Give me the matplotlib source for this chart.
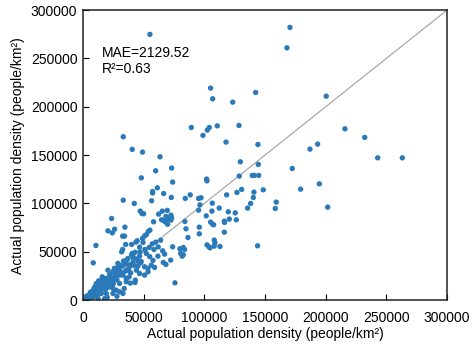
import matplotlib
matplotlib.use("Agg")
import matplotlib.pyplot as plt
import numpy as np

plt.rcParams['font.family'] = ['Liberation Sans', 'DejaVu Sans']

# actual (x) vs predicted (y) population density, people/km2
x_vals = [
    55200, 105200, 106900, 123400, 142300, 89300, 98900, 102500, 104100, 110700,
    128600, 117900, 144200, 33200, 40600, 49100, 170600, 168100, 200500, 215900,
    232200, 193400, 187100, 242900, 263200, 172500, 194800, 179400, 159300, 158500,
    201700,
    63500, 73100, 59900, 48100, 73900, 57400, 57400, 61300, 66500, 72800,
    33200, 42300, 56600, 47200, 48600, 50000, 62400, 65400, 69500, 58200,
    64800, 67000, 68400, 69500, 70900, 68200, 69800, 23600, 20600, 24200,
    26100, 34600, 32700, 34300, 55200, 53800, 52200, 50800, 49100, 44700,
    43700, 40100, 32700, 31900, 10700, 8500, 75800,
    101900, 102200, 129700, 144500, 128800, 139500, 141200, 144800, 84300, 88400,
    95300, 97300, 96400, 95300, 106600, 106300, 112300, 118400, 126900, 130800,
    140900, 148600, 140400, 138200, 135700, 125500, 119800, 120600, 126400, 116500,
    116700, 101600, 105200, 106800, 107700, 84000, 84900, 95900, 95900, 116500,
    86500, 108200, 108800, 102200, 103800, 104700, 108200, 112900, 143900, 73900,
    79900, 82700, 83800, 80500, 82700, 81800, 72500, 73100, 72500,
    35200, 49500, 46700, 51100, 54600, 57100, 40600, 41200, 46700, 52200,
    58500, 65700, 67300, 61800, 57700, 66200, 68400, 72300, 28800, 33000,
    35700, 41200, 45300, 50800, 53600, 56300, 59000, 53600, 46700, 50800,
    39300, 42900, 39000, 43100, 20600, 24700, 27400, 30200, 15900, 19200,
    23300, 26000, 30200, 33000, 35700, 35700, 30200, 11000, 13700, 16500,
    19200, 8200, 11000, 22000, 24700, 27400, 5500, 2700, 8200, 15100,
    19200, 24700, 30200, 33000, 12400, 17900,
    4000, 6000, 9000, 14000, 18000, 21000, 25000, 28000, 32000, 36000,
    38000, 29000, 26000, 22000, 17000, 13000, 10000, 7000, 3000, 1500,
    6000, 20000, 28000, 34000, 38000, 44000, 48000, 55000, 62000, 64000,
    60000, 47000, 37000,
    2000, 3500, 5000, 7500, 9500, 11500, 12500, 14500, 16000, 18500,
    20500, 22500, 23500, 25500, 27000, 29500, 31000, 33500, 35000, 36500,
    39500, 41500, 43000, 45500, 4500, 8500, 10500, 13500, 15500, 21500,
    26500, 31500, 37500, 42000, 24000, 18000, 12000, 40000, 44500, 47500,
]
y_vals = [
    274900, 219300, 208300, 204800, 214800, 178600, 170400, 175900, 178600, 180300,
    180700, 163500, 161000, 169000, 155900, 153100, 282100, 261000, 211000, 177200,
    168300, 161400, 156200, 147200, 147200, 136200, 120300, 114800, 101400, 94800,
    96200,
    148300, 136600, 133800, 126500, 122100, 112400, 110800, 116200, 110300, 106200,
    103400, 100000, 102800, 92100, 89700, 89300, 89000, 92100, 92800, 81000,
    83100, 82000, 86600, 83500, 85100, 80700, 78500, 84500, 71700, 69600,
    73400, 75500, 66200, 66200, 72400, 71000, 67600, 66500, 63800, 61400,
    60000, 57600, 52400, 50000, 56600, 38600, 17900,
    125200, 123400, 143100, 140400, 128300, 129000, 129000, 129000, 105200, 108900,
    105200, 105900, 98600, 93100, 100300, 92100, 95200, 108900, 111400, 114500,
    111700, 114100, 106200, 100000, 95200, 90300, 91400, 83800, 83100, 81700,
    80400, 87200, 80700, 78600, 77900, 81400, 73800, 75500, 68600, 70300,
    64800, 62100, 59300, 57200, 55200, 54100, 55900, 55500, 56200, 55200,
    53100, 54500, 52400, 48300, 46900, 45500, 87900, 85100, 82800,
    57600, 59700, 54800, 52400, 54500, 58200, 48300, 45200, 45500, 48300,
    52400, 51000, 47600, 45500, 41100, 39000, 36900, 41400, 38000, 35500,
    38000, 39000, 35200, 34500, 32800, 36200, 33800, 29300, 27600, 25900,
    28200, 18300, 17600, 20700, 31000, 29300, 28200, 31000, 24100, 22400,
    22400, 24100, 25900, 25900, 22400, 19000, 17200, 17200, 15500, 13800,
    12100, 8600, 10300, 13800, 12100, 10300, 5200, 1700, 3400, 6900,
    6900, 6900, 8600, 6900, 1700, 1700,
    3000, 8000, 12000, 10000, 16000, 19000, 17000, 21000, 28000, 31000,
    34000, 34000, 33000, 26000, 19000, 20000, 14000, 6000, 500, 3000,
    1000, 3000, 4000, 12000, 24000, 31000, 40000, 45000, 55000, 62000,
    60000, 50000, 43000,
    1500, 4500, 2500, 9000, 6500, 15000, 8000, 18500, 12000, 22000,
    17500, 27000, 20000, 30500, 25000, 32500, 36000, 40500, 30000, 42000,
    36500, 43500, 49500, 40000, 1000, 4000, 5500, 9500, 20500, 16000,
    21000, 26500, 31500, 36000, 15500, 11000, 4500, 46500, 42500, 38500,
]

axis_max = 300000
ticks = [0, 50000, 100000, 150000, 200000, 250000, 300000]
mae_text = "MAE=2129.52"
r2_text = "R\u00b2=0.63"
label = "Actual population density (people/km\u00b2)"

fig, ax = plt.subplots(figsize=(4.74, 3.49), dpi=100)
fig.subplots_adjust(left=0.175, right=0.943, bottom=0.140, top=0.971)

ax.plot([0, axis_max], [0, axis_max], color="#a0a0a0", lw=0.8, zorder=1)
ax.scatter(x_vals, y_vals, s=15, color="#2a7ab9", edgecolors="none", zorder=2)

ax.set_xlim(0, axis_max)
ax.set_ylim(0, axis_max)
ax.set_xticks(ticks)
ax.set_yticks(ticks)
ax.tick_params(direction="in", length=4, width=0.8, labelsize=10)
ax.tick_params(axis="x", pad=8)
ax.tick_params(axis="y", pad=4)
for s in ax.spines.values():
    s.set_linewidth(1.1)
    s.set_color("#222222")

ax.set_xlabel(label, fontsize=10, labelpad=1)
ax.set_ylabel(label, fontsize=10, labelpad=4)

ax.text(15500, 263000, mae_text + "\n" + r2_text, fontsize=10, va="top",
        ha="left", linespacing=1.15)

fig.savefig("out.png", dpi=100)
